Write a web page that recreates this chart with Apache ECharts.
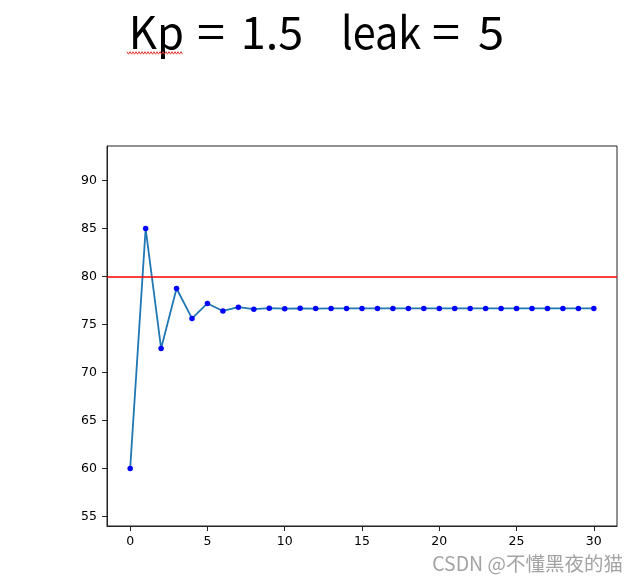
<!DOCTYPE html>
<html>
<head>
<meta charset="utf-8">
<script src="https://cdn.jsdelivr.net/npm/echarts@6/dist/echarts.min.js"></script>
<style>
  html, body { margin: 0; padding: 0; background: #fff; }
  #main { width: 637px; height: 585px; }
</style>
</head>
<body>
<div id="main"></div>
<script>
// steps 0..30
var steps = [0,1,2,3,4,5,6,7,8,9,10,11,12,13,14,15,16,17,18,19,20,21,22,23,24,25,26,27,28,29,30];
// value read per step
var values = [60, 85, 72.5, 78.75, 75.63, 77.19, 76.41, 76.8, 76.6, 76.7, 76.65, 76.68, 76.66, 76.67, 76.67,
              76.67, 76.67, 76.67, 76.67, 76.67, 76.67, 76.67, 76.67, 76.67, 76.67, 76.67, 76.67, 76.67, 76.67, 76.67, 76.67];
var target = 80;
var xTicks = [0, 5, 10, 15, 20, 25, 30];
var yTicks = [55, 60, 65, 70, 75, 80, 85, 90];
// 标题分段写, 间距按原图
var titleParts = ['Kp', '=', '1.5', 'leak', '=', '5'];
var titlePos = [156.5, 211, 272, 381, 446, 491];
var titleScale = [0.97, 1.12, 1, 0.92, 1.12, 1.05];
var watermark = 'CSDN @不懂黑夜的猫';

var chart = echarts.init(document.getElementById('main'));

//红色波浪线(拼写检查那种)
var wave = [];
for (var i = 0; i <= 37; i++) {
    wave.push([127 + i * 1.5, (i % 2 === 0) ? 51.7 : 54.2]);
}

var pts = steps.map(function (s, i) { return [s, values[i]]; });

var graphics = titleParts.map(function (t, i) {
    return {
        type: 'text', x: titlePos[i], y: 9.5, scaleX: titleScale[i],
        style: {
            text: t,
            fontSize: 45,
            fontFamily: 'Noto Sans CJK SC',
            fill: '#000',
            align: 'center',
            verticalAlign: 'top'
        }
    };
});
graphics.push({
    type: 'polyline',
    shape: { points: wave },
    style: { stroke: '#e53935', lineWidth: 1, fill: null }
});
graphics.push({
    type: 'text', right: 14, top: 554,
    style: {
        text: watermark,
        fontSize: 19.5,
        fontFamily: 'Noto Sans CJK SC',
        fill: '#a3a3a3'
    }
});

var option = {
    backgroundColor: '#fff',
    animation: false,
    grid: {
        left: 107, right: 20, top: 146, bottom: 59,
        show: true, borderColor: '#222', borderWidth: 1
    },
    xAxis: {
        type: 'value',
        min: -1.5, max: 31.5,
        splitLine: { show: false },
        axisLine: { show: true, onZero: false, lineStyle: { color: '#222', width: 1 } },
        axisTick: { show: true, length: 5, customValues: xTicks, lineStyle: { color: '#222' } },
        axisLabel: { customValues: xTicks, margin: 9, color: '#000', fontSize: 12.5, fontFamily: 'DejaVu Sans' }
    },
    yAxis: {
        type: 'value',
        min: 54, max: 93.6,
        splitLine: { show: false },
        axisLine: { show: true, onZero: false, lineStyle: { color: '#222', width: 1 } },
        axisTick: { show: true, length: 5, customValues: yTicks, lineStyle: { color: '#222' } },
        axisLabel: { customValues: yTicks, margin: 10, color: '#000', fontSize: 12.5, fontFamily: 'DejaVu Sans' }
    },
    series: [
        {
            type: 'line',
            data: pts,
            symbol: 'circle',
            symbolSize: 5.5,
            showSymbol: true,
            lineStyle: { color: '#1f77b4', width: 1.8 },
            itemStyle: { color: '#0000ff', borderWidth: 0 },
            z: 3,
            markLine: {
                silent: true,
                symbol: 'none',
                label: { show: false },
                lineStyle: { color: '#ff0000', width: 1.6, type: 'solid' },
                data: [{ yAxis: target }]
            }
        }
    ],
    graphic: graphics
};
chart.setOption(option);
</script>
</body>
</html>
